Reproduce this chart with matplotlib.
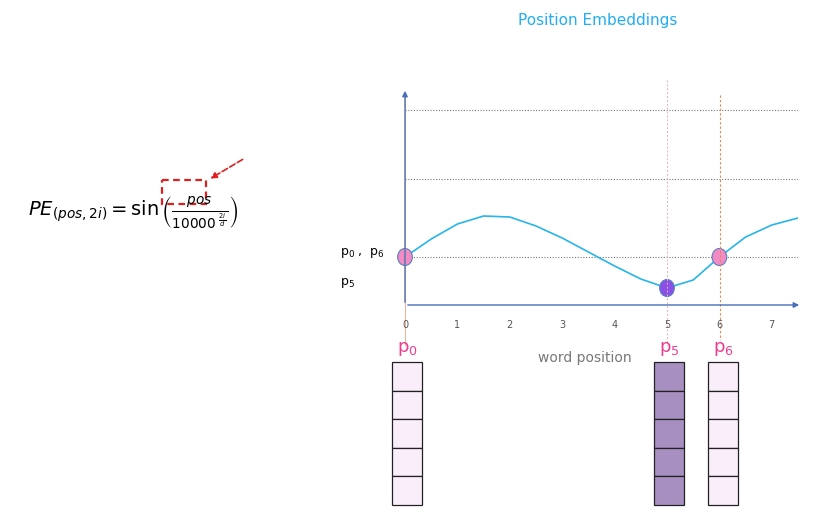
import matplotlib
matplotlib.use("Agg")
import matplotlib.pyplot as plt
from matplotlib.patches import Rectangle, Ellipse

# curve (word position, embedding value)
pos_x = [0, 0.5, 1, 1.5, 2, 2.5, 3, 3.5, 4, 4.5, 5, 5.5, 6, 6.5, 7, 7.5]
pos_y = [4.8, 6.6, 8.1, 8.9, 8.8, 7.9, 6.7, 5.3, 3.9, 2.6, 1.7, 2.5, 4.8, 6.8, 8.0, 8.7]
ticks = [0, 1, 2, 3, 4, 5, 6, 7]
grid_y = [4.8, 12.6, 19.5]
marked_x = [0, 5, 6]
marked_y = [4.8, 1.7, 4.8]
marked_col = ["#f28bc4", "#8a4fe6", "#f28bc4"]
vec_labels = ["p$_0$", "p$_5$", "p$_6$"]
vec_fill = ["#fbeefb", "#a88fc2", "#fbeefb"]

W, H = 819, 516
fig = plt.figure(figsize=(W / 100, H / 100), dpi=100)

# main chart axes
x0, x1, yb, yt = 405, 798, 305, 90
ax = fig.add_axes([x0 / W, 1 - yb / H, (x1 - x0) / W, (yb - yt) / H])
ax.set_xlim(0, 7.5)
ax.set_ylim(0, 21.5)
for s in ax.spines.values():
    s.set_visible(False)
ax.set_xticks([])
ax.set_yticks([])
ax.patch.set_alpha(0)
for gy in grid_y:
    ax.axhline(gy, color="#777777", lw=0.8, ls=(0, (1, 1.5)))
ax.plot(pos_x, pos_y, color="#27b5ea", lw=1.2)
for mx, my, mc in zip(marked_x, marked_y, marked_col):
    ax.add_patch(Ellipse((mx, my), 0.28, 1.7, facecolor=mc, edgecolor="#5a7fc0",
                         lw=0.8, zorder=5, clip_on=False))

# overlay in pixel coordinates
ov = fig.add_axes([0, 0, 1, 1])
ov.set_xlim(0, W)
ov.set_ylim(H, 0)
ov.axis("off")
ov.patch.set_alpha(0)

# axes arrows
ov.annotate("", xy=(802, 305), xytext=(405, 305),
            arrowprops=dict(arrowstyle="-|>", color="#4a6fb8", lw=1, mutation_scale=8))
ov.annotate("", xy=(405, 88), xytext=(405, 305),
            arrowprops=dict(arrowstyle="-|>", color="#4a6fb8", lw=1, mutation_scale=8))

for t in ticks:
    px = x0 + t * 52.4
    ov.text(px, 325, str(t), ha="center", va="center", fontsize=7, color="#555555")

# vertical guides
ov.plot([405, 405], [95, 345], color="#f0b090", lw=0.7)
ov.plot([667, 667], [80, 345], color="#e8b0b0", lw=0.7, ls=(0, (2, 2)))
ov.plot([720, 720], [95, 340], color="#e8844a", lw=0.8, ls=(0, (2, 2)))

ov.text(598, 20, "Position Embeddings", ha="center", va="center", fontsize=11, color="#22aef0")
ov.text(340, 253, "p$_0$ ,  p$_6$", ha="left", va="center", fontsize=9)
ov.text(340, 283, "p$_5$", ha="left", va="center", fontsize=9)
ov.text(585, 358, "word position", ha="center", va="center", fontsize=10, color="#777777")

# embedding vectors
for cx, lab, fc in zip([407, 669, 723], vec_labels, vec_fill):
    ov.text(cx, 349, lab, ha="center", va="center", fontsize=13, color="#ee3d8f")
    for k in range(5):
        ov.add_patch(Rectangle((cx - 15, 362 + k * 28.6), 30, 28.6,
                               facecolor=fc, edgecolor="#222222", lw=0.9))

# formula
ov.text(28, 212, r"$PE_{(pos,2i)} = \sin\left(\frac{pos}{10000^{\ \frac{2i}{d}}}\right)$",
        ha="left", va="center", fontsize=14, family="DejaVu Serif")
ov.add_patch(Rectangle((162, 180), 44, 24, facecolor="none", edgecolor="#e02020",
                       lw=1.6, ls=(0, (3, 2))))
ov.annotate("", xy=(208, 180), xytext=(245, 158),
            arrowprops=dict(arrowstyle="-|>", color="#e02020", lw=1.2, ls="--", mutation_scale=9))

fig.savefig("out.png", dpi=100)
